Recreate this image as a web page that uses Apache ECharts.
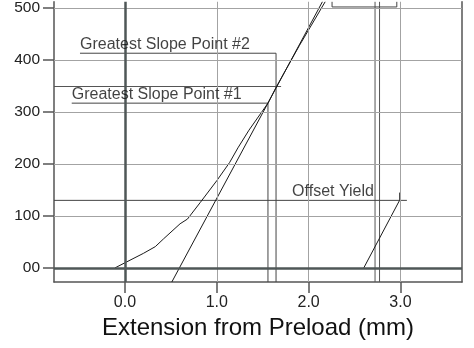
<!DOCTYPE html>
<html><head><meta charset="utf-8">
<script src="https://cdn.jsdelivr.net/npm/echarts@6/dist/echarts.min.js"></script>
<style>html,body{margin:0;padding:0;background:#fff}#c{width:474px;height:348px}</style>
</head><body><div id="c"></div>
<script>
// ---- data ----
const xTicks = [0, 1, 2, 3];
const xTickLabels = ['0.0', '1.0', '2.0', '3.0'];
const yTicks = [0, 100, 200, 300, 400, 500];
const yTickLabels = ['00', '100', '200', '300', '400', '500'];
const xRange = [-0.773, 3.67];
const yRange = [-27, 512];

const loadCurve = [[-0.11,0],[0,10],[0.2,28],[0.33,41],[0.42,56],[0.6,85],[0.68,94],[0.82,126],[1.0,168],[1.14,203],[1.23,231],[1.35,265],[1.557,317],[1.65,349],[1.9,428],[2.18,512]];
const tangentLine = [[0.51,-27],[2.15,512]];
const offsetLine = [[2.6,0],[2.99,130]];
const slope2Leader = [[-0.49,413],[1.645,413],[1.645,-27]];
const slope1Leader = [[-0.58,317],[1.557,317],[1.557,-27]];
const line349 = [[-0.773,349],[1.70,349]];
const offsetLeader = [[-0.773,130],[3.07,130]];
const offsetTick = [[2.99,145],[2.99,130]];
const breakLineA = [[2.723,-27],[2.723,512]];
const breakLineB = [[2.772,-27],[2.772,512]];
const topBox = [[2.255,512],[2.255,502],[2.96,502],[2.96,512]];
const annotations = [
  {name: 'Greatest Slope Point #2', value: [-0.49, 413]},
  {name: 'Greatest Slope Point #1', value: [-0.58, 317]},
  {name: 'Offset Yield', value: [1.82, 130]}
];

// ---- chart ----
const FONT = 'Liberation Sans, Arial, sans-serif';
const chart = echarts.init(document.getElementById('c'), null, {renderer: 'canvas'});
function seg(data, color, width, z) {
  return {type: 'line', data: data, showSymbol: false, symbol: 'none', silent: true,
    lineStyle: {color: color, width: width}, z: z || 3, animation: false};
}
const gridMarks = {
  silent: true, symbol: ['none', 'none'], label: {show: false}, animation: false,
  data: [
    ...yTicks.filter(v => v !== 0).map(v => ({yAxis: v, lineStyle: {color: '#a3a3a3', width: 1, type: 'solid'}})),
    ...xTicks.filter(v => v !== 0).map(v => ({xAxis: v, lineStyle: {color: '#a3a3a3', width: 1, type: 'solid'}})),
    {xAxis: 0, lineStyle: {color: '#4f5757', width: 2.5, type: 'solid'}},
    {yAxis: 0, lineStyle: {color: '#4f5757', width: 2.5, type: 'solid'}}
  ]
};
chart.setOption({
  animation: false,
  grid: {left: 54, right: 12, top: 0, bottom: 66, containLabel: false},
  xAxis: {
    type: 'value', min: xRange[0], max: xRange[1],
    axisLine: {show: true, onZero: false, lineStyle: {color: '#555', width: 1.5}},
    axisTick: {show: true, customValues: xTicks, length: 11, lineStyle: {color: '#555', width: 1.5}},
    axisLabel: {customValues: xTicks, margin: 13, fontSize: 16, fontFamily: FONT, color: '#222',
      formatter: v => xTickLabels[xTicks.indexOf(v)]},
    splitLine: {show: false},
    name: 'Extension from Preload (mm)', nameLocation: 'middle', nameGap: 31,
    nameTextStyle: {fontSize: 24, fontFamily: FONT, color: '#111'}
  },
  yAxis: [{
    type: 'value', min: yRange[0], max: yRange[1],
    axisLine: {show: true, onZero: false, lineStyle: {color: '#555', width: 1.5}},
    axisTick: {show: true, customValues: yTicks, length: 11, lineStyle: {color: '#555', width: 1.5}},
    axisLabel: {customValues: yTicks, margin: 14, fontSize: 15.5, fontFamily: FONT, color: '#222',
      formatter: v => yTickLabels[yTicks.indexOf(v)]},
    splitLine: {show: false}
  }, {
    type: 'value', position: 'right', min: yRange[0], max: yRange[1],
    axisLine: {show: true, onZero: false, lineStyle: {color: '#555', width: 1.5}},
    axisTick: {show: false}, axisLabel: {show: false}, splitLine: {show: false}
  }],
  series: [
    Object.assign(seg([], '#000', 1, 1), {markLine: gridMarks}),
    seg(breakLineA, '#555', 1, 2),
    seg(breakLineB, '#555', 1, 2),
    seg(slope2Leader, '#444', 1, 2),
    seg(slope1Leader, '#444', 1, 2),
    seg(line349, '#555', 1, 2),
    seg(offsetLeader, '#444', 1, 2),
    seg(offsetTick, '#444', 1, 2),
    seg(topBox, '#444', 1, 2),
    seg(tangentLine, '#1a1a1a', 1, 4),
    seg(offsetLine, '#1a1a1a', 1, 4),
    seg(loadCurve, '#1a1a1a', 1, 4),
    {
      type: 'scatter', data: annotations, symbolSize: 0, silent: true, z: 5,
      label: {show: true, position: 'top', align: 'left', distance: 1,
        formatter: p => p.name, fontSize: 16, fontFamily: FONT, color: '#111'}
    }
  ]
});
</script></body></html>
